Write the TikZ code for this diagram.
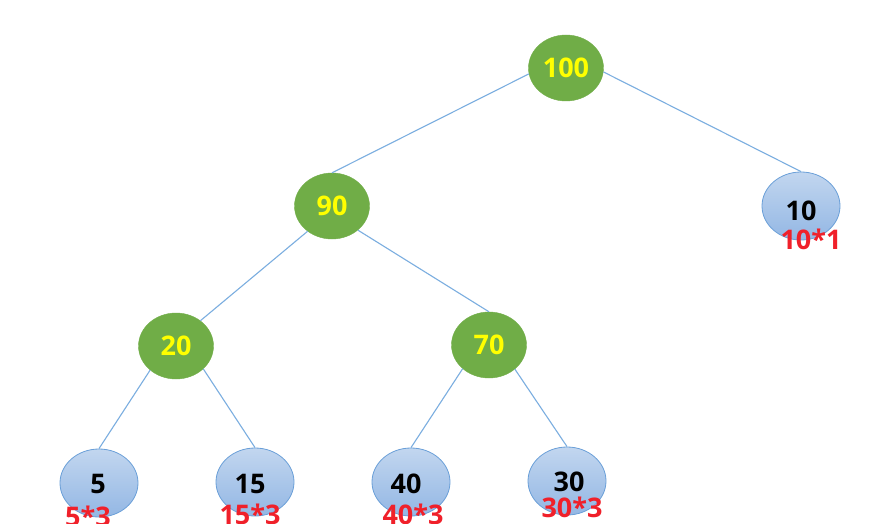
\documentclass[tikz,border=0pt]{standalone}
\usepackage{fontspec}
\setmainfont{Open Sans}
\usetikzlibrary{shapes.geometric}
\definecolor{gnode}{HTML}{70AD47}
\definecolor{ytext}{HTML}{FFFF00}
\definecolor{bline}{HTML}{7BAEE0}
\definecolor{btop}{HTML}{C2D6EF}
\definecolor{bbot}{HTML}{93B7E4}
\definecolor{bborder}{HTML}{6A9FD8}
\definecolor{rtext}{HTML}{F0202A}
\begin{document}
\begin{tikzpicture}[x=1pt,y=-1pt,
  gnodestyle/.style={ellipse, fill=gnode, draw=gnode, minimum width=75pt, minimum height=66pt, inner sep=0pt,
     text=ytext, font=\fontsize{27}{27}\selectfont\bfseries},
  bnodestyle/.style={ellipse, top color=btop, bottom color=bbot, draw=bborder, line width=0.8pt,
     minimum width=78pt, minimum height=68pt, inner sep=0pt},
  numtext/.style={text=black, font=\fontsize{27}{27}\selectfont\bfseries, inner sep=0pt},
  redlabel/.style={text=rtext, font=\fontsize{27}{27}\selectfont\bfseries, inner sep=0pt},
  edge/.style={draw=bline, line width=1.1pt}
]
\fill[white] (0,0) rectangle (894,524);
\useasboundingbox (0,0) rectangle (894,524);

\node[gnodestyle] (n100) at (566,68) {100};
\node[gnodestyle] (n90) at (332,206) {90};
\node[gnodestyle] (n20) at (176,346) {20};
\node[gnodestyle] (n70) at (489,345) {70};

\node[bnodestyle] (n10) at (801,206) {};
\node[bnodestyle] (n5) at (99,483) {};
\node[bnodestyle] (n15) at (255,482) {};
\node[bnodestyle] (n40) at (411,482) {};
\node[bnodestyle] (n30) at (567,481) {};

\node[numtext] (t10) at (801,211) {10};
\node[numtext] (t5) at (98,484) {5};
\node[numtext] (t15) at (250,484) {15};
\node[numtext] (t40) at (406,484) {40};
\node[numtext] (t30) at (569,482) {30};

\node[redlabel] (r10) at (811,239) {10*1};
\node[redlabel] (r5) at (88,516) {5*3};
\node[redlabel] (r15) at (250,514) {15*3};
\node[redlabel] (r40) at (413,514) {40*3};
\node[redlabel] (r30) at (572,507) {30*3};

\draw[edge] (n100.189) -- (n90.north);
\draw[edge] (n100.354) -- (n10.north);
\draw[edge] (n90.226) -- (n20.46);
\draw[edge] (n90.317) -- (n70.north);
\draw[edge] (n20.223) -- (n5.north);
\draw[edge] (n20.320) -- (n15.north);
\draw[edge] (n70.222) -- (n40.north);
\draw[edge] (n70.317) -- (n30.north);
\end{tikzpicture}
\end{document}
